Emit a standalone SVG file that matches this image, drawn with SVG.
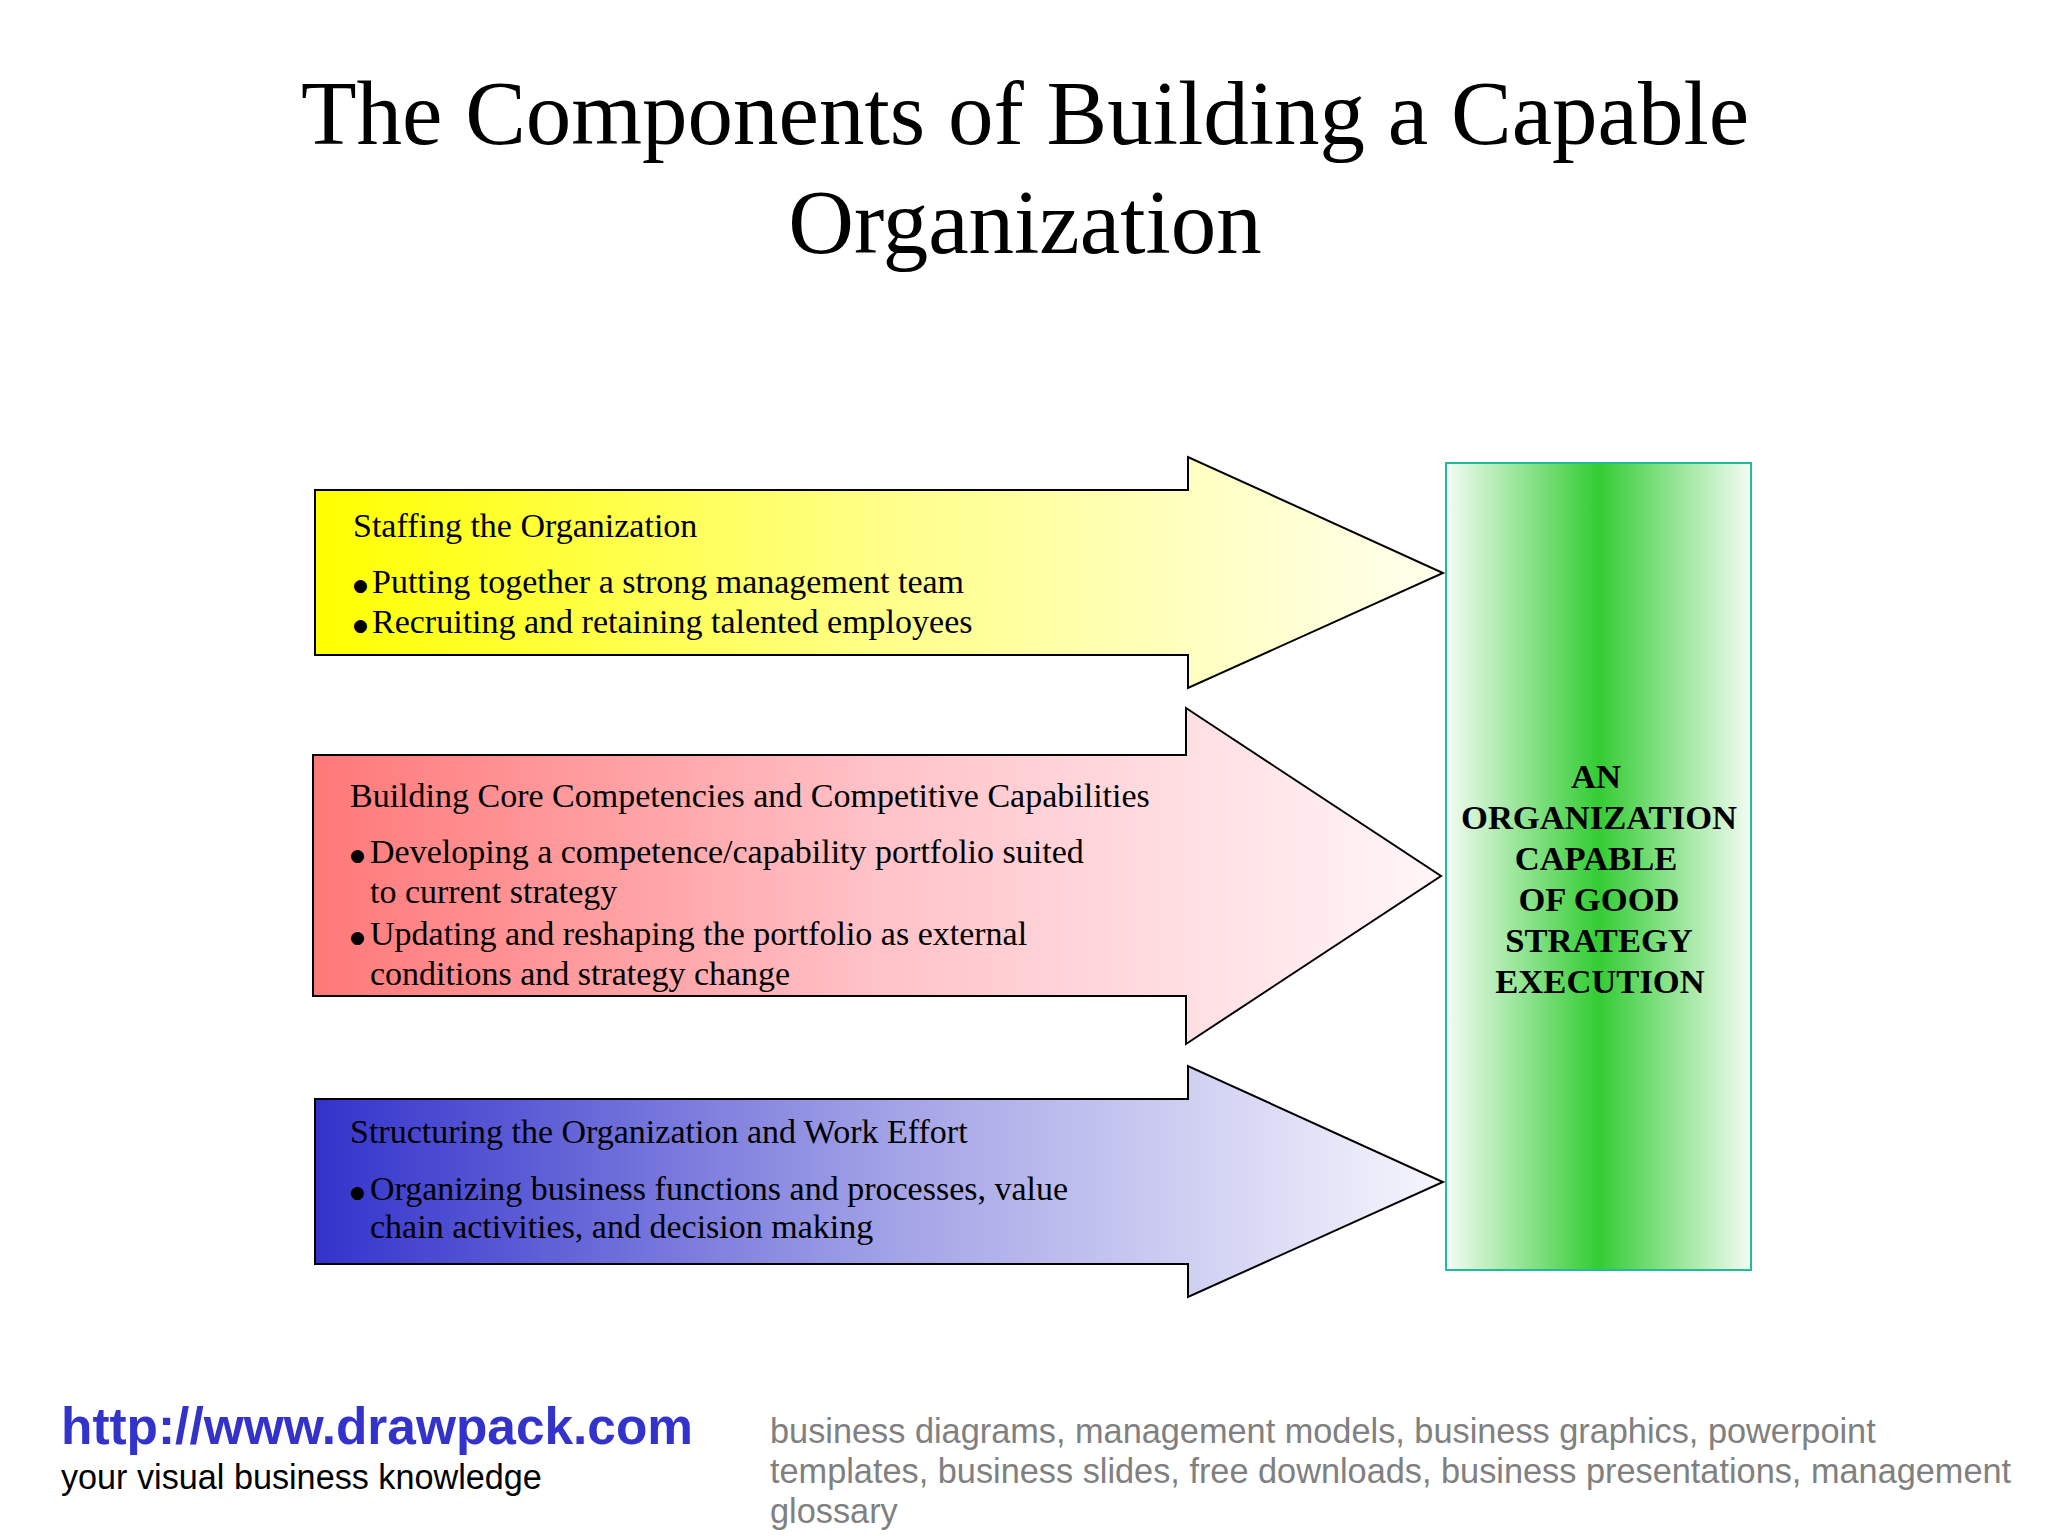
<svg xmlns="http://www.w3.org/2000/svg" width="2048" height="1536" viewBox="0 0 2048 1536">
<style>
.title{font-family:"Liberation Serif","Times New Roman",serif;font-size:91px;fill:#000;text-anchor:middle}
.t{font-family:"Liberation Serif","Times New Roman",serif;font-size:34px;fill:#000}
.b{font-family:"DejaVu Sans",sans-serif;font-size:17px;fill:#000}
.c{font-family:"Liberation Serif","Times New Roman",serif;font-size:34.6px;font-weight:bold;fill:#000;text-anchor:middle}
.arrow{stroke:#000;stroke-width:2}
.url{font-family:"Liberation Sans",Arial,sans-serif;font-size:51.4px;font-weight:bold;fill:#3333cc}
.tag{font-family:"Liberation Sans",Arial,sans-serif;font-size:34.2px;fill:#000}
.kw{font-family:"Liberation Sans",Arial,sans-serif;font-size:34.3px;fill:#808080}
</style>
<defs>
<linearGradient id="gY" x1="0" y1="0" x2="1" y2="0">
<stop offset="0" stop-color="#ffff00"/><stop offset="0.5" stop-color="#ffff88"/><stop offset="1" stop-color="#ffffee"/>
</linearGradient>
<linearGradient id="gR" x1="0" y1="0" x2="1" y2="0">
<stop offset="0" stop-color="#ff7878"/><stop offset="0.5" stop-color="#ffc2c8"/><stop offset="1" stop-color="#fff6f8"/>
</linearGradient>
<linearGradient id="gB" x1="0" y1="0" x2="1" y2="0">
<stop offset="0" stop-color="#3333cc"/><stop offset="0.5" stop-color="#a0a0e6"/><stop offset="1" stop-color="#f6f6fd"/>
</linearGradient>
<linearGradient id="gG" x1="0" y1="0" x2="1" y2="0">
<stop offset="0" stop-color="#f4fcf4"/><stop offset="0.5" stop-color="#33cc33"/><stop offset="1" stop-color="#f4fcf4"/>
</linearGradient>
</defs>
<rect width="2048" height="1536" fill="#fff"/>
<g id="title">
<text class="title" x="1025" y="144">The Components of Building a Capable</text>
<text class="title" x="1025" y="253">Organization</text>
</g>
<g id="connectors"/>
<g id="arrow-staffing">
<path class="arrow" fill="url(#gY)" d="M315,490 H1188 V457 L1443,573 L1188,688 V655 H315 Z"/>
<text class="t" x="353" y="537">Staffing the Organization</text>
<text class="b" x="353" y="591">●</text><text class="t" x="372" y="593">Putting together a strong management team</text>
<text class="b" x="353" y="631">●</text><text class="t" x="372" y="633">Recruiting and retaining talented employees</text>
</g>
<g id="arrow-competencies">
<path class="arrow" fill="url(#gR)" d="M313,755 H1186 V708 L1441,876 L1186,1044 V996 H313 Z"/>
<text class="t" x="350" y="807">Building Core Competencies and Competitive Capabilities</text>
<text class="b" x="350" y="861">●</text><text class="t" x="370" y="863">Developing a competence/capability portfolio suited</text>
<text class="t" x="370" y="903">to current strategy</text>
<text class="b" x="350" y="943">●</text><text class="t" x="370" y="945">Updating and reshaping the portfolio as external</text>
<text class="t" x="370" y="985">conditions and strategy change</text>
</g>
<g id="arrow-structuring">
<path class="arrow" fill="url(#gB)" d="M315,1099 H1188 V1066 L1443,1182 L1188,1297 V1264 H315 Z"/>
<text class="t" x="350" y="1143">Structuring the Organization and Work Effort</text>
<text class="b" x="350" y="1198">●</text><text class="t" x="370" y="1200">Organizing business functions and processes, value</text>
<text class="t" x="370" y="1238">chain activities, and decision making</text>
</g>
<g id="target">
<rect x="1446" y="463" width="305" height="807" fill="url(#gG)" stroke="#22bb99" stroke-width="2"/>
<text class="c" x="1596" y="788">AN</text>
<text class="c" x="1599" y="829">ORGANIZATION</text>
<text class="c" x="1596" y="870">CAPABLE</text>
<text class="c" x="1599" y="911">OF GOOD</text>
<text class="c" x="1599" y="952">STRATEGY</text>
<text class="c" x="1600" y="993">EXECUTION</text>
</g>
<g id="footer">
<text class="url" x="61" y="1444">http://www.drawpack.com</text>
<text class="tag" x="61" y="1489">your visual business knowledge</text>
<text class="kw" x="770" y="1443">business diagrams, management models, business graphics, powerpoint</text>
<text class="kw" x="770" y="1483">templates, business slides, free downloads, business presentations, management</text>
<text class="kw" x="770" y="1523">glossary</text>
</g>
</svg>
